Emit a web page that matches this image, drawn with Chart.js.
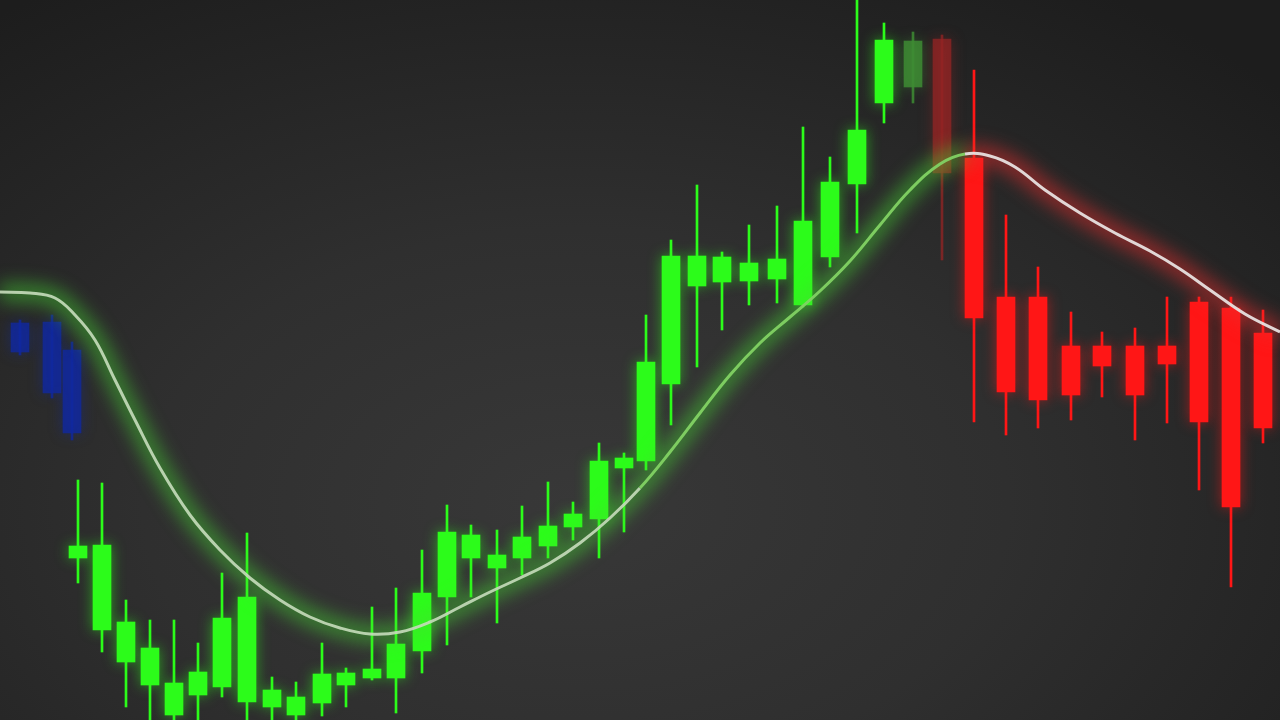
<!DOCTYPE html>
<html>
<head>
<meta charset="utf-8">
<title>Candles</title>
<script src="https://cdn.jsdelivr.net/npm/chart.js@4.4.1/dist/chart.umd.min.js"></script>
<style>
  html, body { margin: 0; padding: 0; }
  body {
    width: 1280px; height: 720px; overflow: hidden;
    background: radial-gradient(ellipse 75% 85% at 45% 70%, #383838 0%, #2f2f2f 45%, #1d1d1d 100%);
  }
  canvas { display: block; }
</style>
</head>
<body>
<canvas id="myChart" width="1280" height="720"></canvas>
<script>
// tiempos de cada vela (eje x)
const times = [2.0, 5.2, 7.2,
  7.8, 10.2, 12.6, 15.0, 17.4, 19.8, 22.2, 24.7, 27.2, 29.6, 32.2, 34.6, 37.2, 39.6, 42.2, 44.7, 47.1,
  49.7, 52.2, 54.8, 57.3, 59.9, 62.4, 64.6, 67.1, 69.7, 72.2, 74.9, 77.7, 80.3, 83.0, 85.7, 88.4, 91.3,
  94.2, 97.4, 100.6, 103.8, 107.1, 110.2, 113.5, 116.7, 119.9, 123.1, 126.3];

const opens = [1.397, 1.398, 1.370,
  1.162, 1.090, 1.058, 1.035, 1.005, 1.025, 1.033, 1.018, 1.013, 1.005, 1.017, 1.035, 1.042, 1.042, 1.069, 1.123, 1.162,
  1.152, 1.162, 1.174, 1.193, 1.201, 1.252, 1.259, 1.336, 1.434, 1.438, 1.439, 1.441, 1.415, 1.463, 1.536, 1.617, 1.633,
  1.681, 1.562, 1.423, 1.423, 1.374, 1.374, 1.374, 1.374, 1.418, 1.412, 1.387];

const closes = [1.368, 1.327, 1.287,
  1.174, 1.175, 1.098, 1.072, 1.037, 1.048, 1.102, 1.123, 1.030, 1.023, 1.046, 1.047, 1.051, 1.076, 1.127, 1.188, 1.185,
  1.165, 1.183, 1.194, 1.206, 1.259, 1.262, 1.358, 1.464, 1.464, 1.463, 1.457, 1.461, 1.499, 1.538, 1.590, 1.680, 1.679,
  1.547, 1.402, 1.328, 1.320, 1.325, 1.354, 1.325, 1.356, 1.298, 1.213, 1.292];

const highs = [1.400, 1.405, 1.378,
  1.240, 1.237, 1.120, 1.100, 1.100, 1.077, 1.147, 1.187, 1.043, 1.038, 1.077, 1.052, 1.113, 1.132, 1.170, 1.215, 1.195,
  1.190, 1.214, 1.238, 1.218, 1.277, 1.267, 1.405, 1.480, 1.535, 1.468, 1.495, 1.514, 1.593, 1.563, 1.730, 1.697, 1.688,
  1.685, 1.650, 1.505, 1.453, 1.408, 1.388, 1.392, 1.423, 1.423, 1.423, 1.410];

const lows = [1.365, 1.322, 1.280,
  1.137, 1.068, 1.013, 0.990, 0.990, 0.990, 1.023, 0.990, 0.990, 0.990, 1.004, 1.013, 1.040, 1.007, 1.047, 1.075, 1.123,
  1.097, 1.145, 1.162, 1.180, 1.162, 1.188, 1.250, 1.295, 1.353, 1.390, 1.415, 1.417, 1.413, 1.453, 1.487, 1.597, 1.617,
  1.460, 1.298, 1.285, 1.292, 1.300, 1.323, 1.280, 1.297, 1.230, 1.133, 1.277];

// media movil
const maTimes = [0, 3, 5.5, 7.5, 9.5, 11.5, 13.5, 16, 19, 22, 25, 28, 31, 34, 37, 40, 43, 46, 49, 52, 55, 58, 61,
  64, 67, 70, 73, 76, 79, 82, 85, 88, 91, 94, 96.5, 99, 101.5, 104.5, 108, 111.5, 115, 118, 121, 124.5, 128];
const maValues = [1.428, 1.427, 1.422, 1.405, 1.380, 1.340, 1.300, 1.252, 1.205, 1.170, 1.142, 1.120, 1.103, 1.092,
  1.086, 1.088, 1.098, 1.113, 1.128, 1.142, 1.157, 1.177, 1.202, 1.232, 1.268, 1.307, 1.345, 1.377, 1.403, 1.429,
  1.459, 1.495, 1.530, 1.556, 1.566, 1.564, 1.553, 1.530, 1.507, 1.487, 1.469, 1.451, 1.430, 1.406, 1.388];

const peakTime = 96.5; // donde la media cambia de verde a rojo

// colores
const green = 'rgb(44, 252, 26)';
const red = 'rgb(255, 22, 22)';
const blue = 'rgba(16, 40, 160, 0.8)';
const fadedGreen = 'rgba(62, 140, 52, 0.85)';
const fadedRed = 'rgba(150, 36, 36, 0.75)';

function candleColor(i) {
  if (i < 3) return blue;
  if (i === 36) return fadedGreen;
  if (i === 37) return fadedRed;
  return closes[i] >= opens[i] ? green : red;
}

const bodies = times.map((t, i) => ({ x: t, y: [opens[i], closes[i]] }));
const wicks = times.map((t, i) => ({ x: t, y: [lows[i], highs[i]] }));
const maPoints = maTimes.map((t, i) => ({ x: t, y: maValues[i] }));

// plugin para el brillo (glow)
const glowPlugin = {
  id: 'glow',
  beforeDatasetDraw(chart, args) {
    const ds = chart.data.datasets[args.index];
    const ctx = chart.ctx;
    if (ds.haloPx) {
      ctx.save();
      ctx.filter = `blur(${ds.haloPx}px)`;
      ctx.globalAlpha = 0.55;
      args.meta.controller.draw();
      ctx.restore();
    }
    if (ds.blurPx) {
      ctx.save();
      ctx.filter = `blur(${ds.blurPx}px)`;
    }
  },
  afterDatasetDraw(chart, args) {
    if (chart.data.datasets[args.index].blurPx) chart.ctx.restore();
  }
};

const ctx = document.getElementById('myChart');

const myChart = new Chart(ctx, {
  type: 'bar',
  data: {
    datasets: [
      {
        type: 'line',
        label: 'Media',
        data: maPoints,
        order: 0,
        borderWidth: 3,
        tension: 0.4,
        pointRadius: 0,
        segment: {
          borderColor: c => {
            const x = c.p0.parsed.x;
            if (x >= peakTime) return 'rgba(232, 226, 224, 0.95)';
            if (x >= 62) return 'rgba(130, 210, 100, 0.95)';
            return 'rgba(196, 218, 186, 0.92)';
          }
        }
      },
      {
        type: 'line',
        label: 'Brillo',
        data: maPoints,
        order: 1,
        blurPx: 9,
        borderWidth: 18,
        tension: 0.4,
        pointRadius: 0,
        segment: {
          borderColor: c => c.p0.parsed.x >= peakTime ? 'rgba(235, 45, 45, 0.55)' : 'rgba(70, 220, 50, 0.5)'
        }
      },
      {
        label: 'Cuerpo',
        data: bodies,
        order: 2,
        haloPx: 7,
        grouped: false,
        barThickness: 18,
        borderWidth: 0,
        borderSkipped: false,
        backgroundColor: bodies.map((b, i) => candleColor(i))
      },
      {
        label: 'Mecha',
        data: wicks,
        order: 3,
        grouped: false,
        barThickness: 2,
        borderWidth: 0,
        borderSkipped: false,
        backgroundColor: wicks.map((w, i) => candleColor(i))
      }
    ]
  },
  options: {
    responsive: false,
    animation: false,
    layout: { padding: 0 },
    scales: {
      x: { type: 'linear', display: false, offset: false, min: 0, max: 128 },
      y: { type: 'linear', display: false, min: 1.0, max: 1.72 }
    },
    plugins: {
      legend: { display: false },
      tooltip: { enabled: false }
    }
  },
  plugins: [glowPlugin]
});
</script>
</body>
</html>
